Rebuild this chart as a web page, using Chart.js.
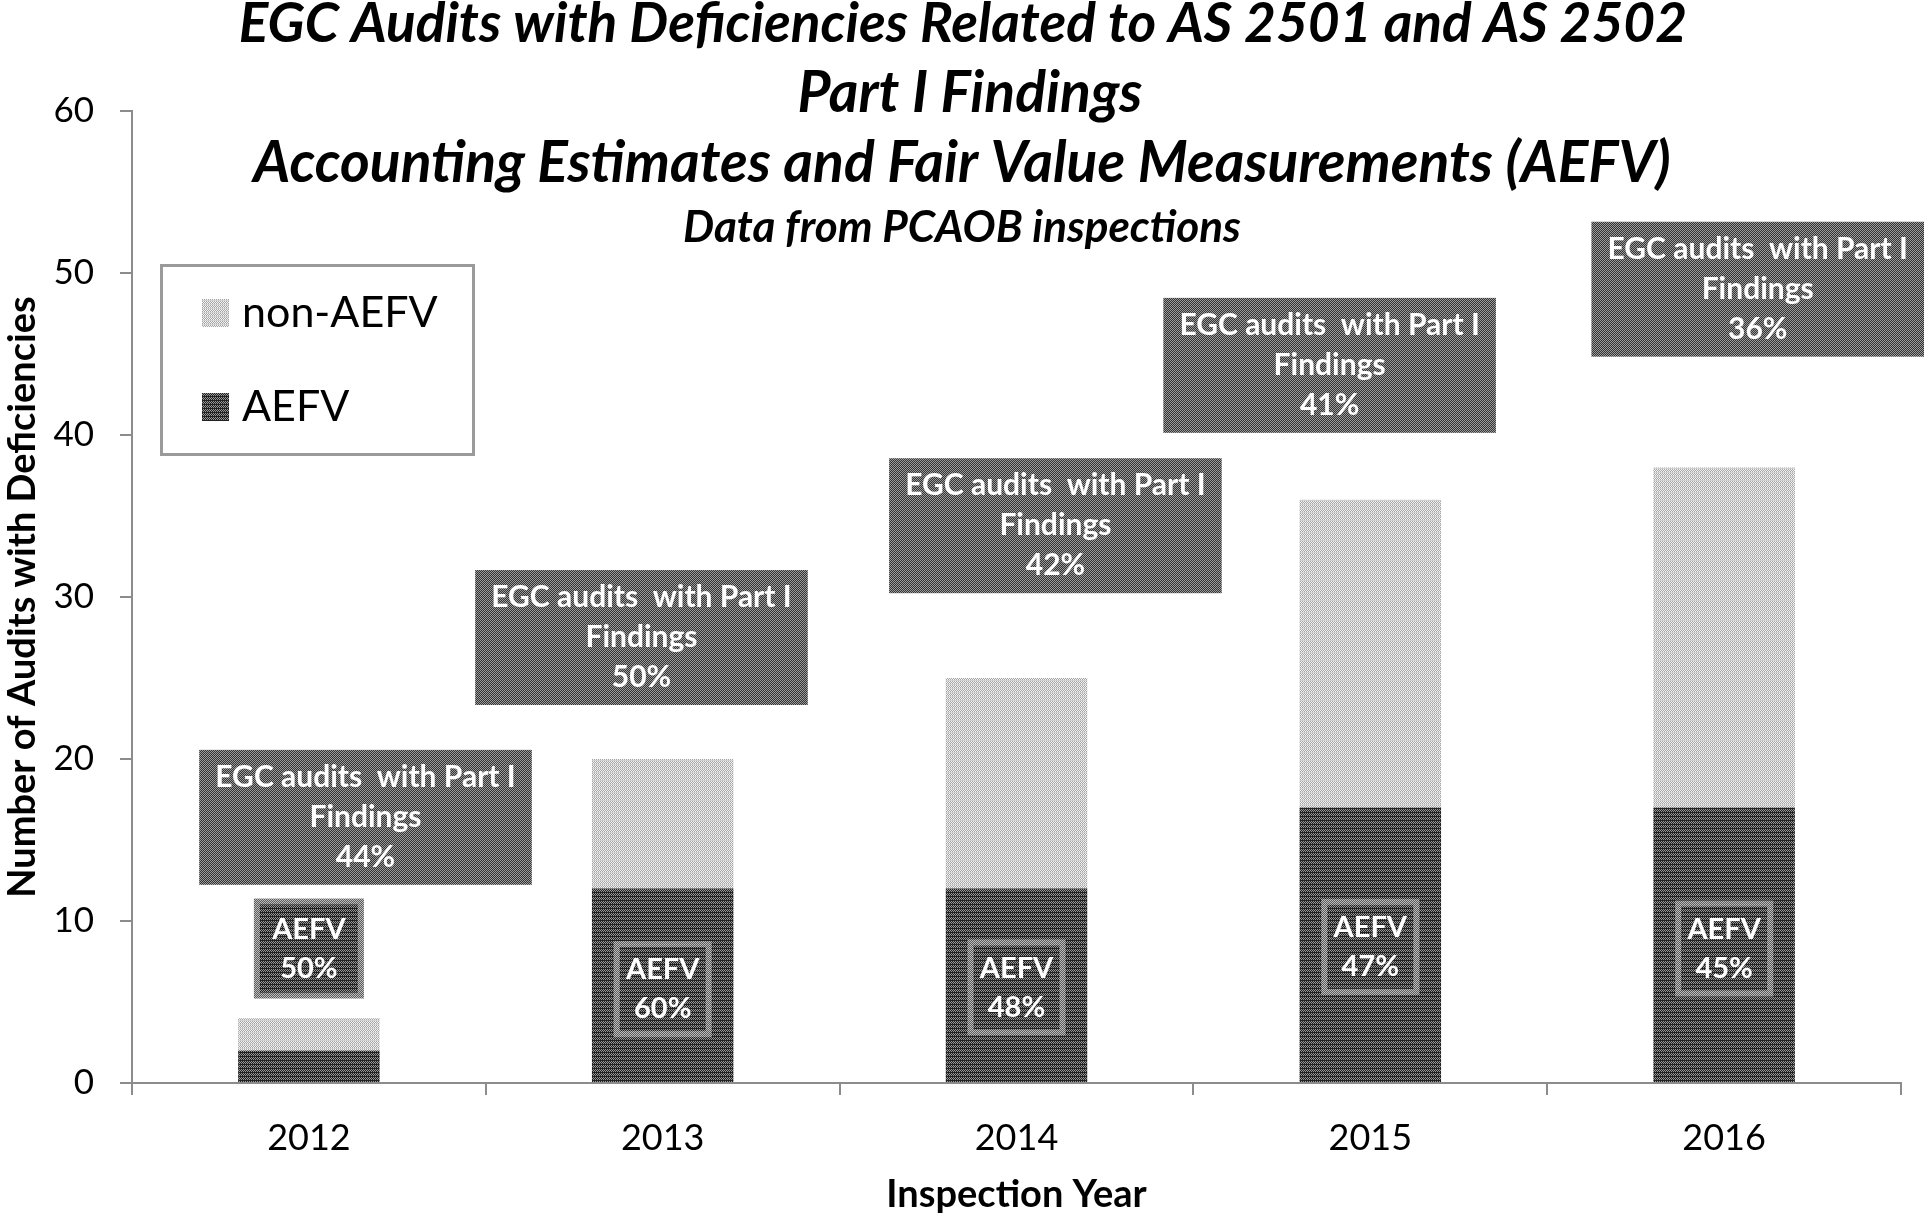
<!DOCTYPE html>
<html>
<head>
<meta charset="utf-8">
<script src="https://cdn.jsdelivr.net/npm/chart.js@4.4.1/dist/chart.umd.min.js"></script>
<style>
  html, body { margin: 0; padding: 0; background: #fff; }
</style>
</head>
<body>
<canvas id="chart" width="1924" height="1218"></canvas>
<script>
// data
var years = ['2012', '2013', '2014', '2015', '2016'];
var aefv = [2, 12, 12, 17, 17];
var nonAefv = [2, 8, 13, 19, 21];
var partIFindingsPct = [44, 50, 42, 41, 36];
var yTicks = [0, 10, 20, 30, 40, 50, 60];
var titleLines = [
  'EGC Audits with Deficiencies Related to AS 2501 and AS 2502',
  'Part I Findings',
  'Accounting Estimates and Fair Value Measurements (AEFV)'
];
var subTitle = 'Data from PCAOB inspections';

// where the call-out boxes sit (category offset, centre in axis units)
var boxShift = [0.16, -0.06, 0.11, -0.115, 0.095];
var boxMid = [16.4, 27.5, 34.4, 44.3, 49.0];
var tagMid = [8.3, 5.8, 5.9, 8.4, 8.3];

var FONT = 'Lato, "Open Sans", sans-serif';
var canvas = document.getElementById('chart');
var ctx = canvas.getContext('2d');

// dithered fills like the scanned original
function makePattern(size, pick) {
  var c = document.createElement('canvas');
  c.width = size; c.height = size;
  var g = c.getContext('2d');
  for (var y = 0; y < size; y++) {
    for (var x = 0; x < size; x++) {
      g.fillStyle = pick(x, y);
      g.fillRect(x, y, 1, 1);
    }
  }
  return ctx.createPattern(c, 'repeat');
}
var darkFill = makePattern(4, function (x, y) {
  if (y % 4 === 0) return '#222222';
  return (x + y) % 2 ? '#222222' : '#969696';
});
var lightFill = makePattern(4, function (x, y) {
  if (y % 4 === 0) return '#d0d0d0';
  return (x + y) % 2 ? '#a6a6a6' : '#f2f2f2';
});
var boxFill = makePattern(2, function (x, y) {
  return (x + y) % 2 ? '#333333' : '#9c9c9c';
});
var tagEdge = makePattern(2, function (x, y) {
  return (x + y) % 2 ? '#5c5c5c' : '#bdbdbd';
});
var axisColor = '#8c8c8c';

var titlesPlugin = {
  id: 'titles',
  afterDraw: function (chart) {
    var c = chart.ctx;
    c.save();
    c.fillStyle = '#000';
    c.textAlign = 'center';
    c.textBaseline = 'middle';
    c.font = 'italic bold 55px ' + FONT;
    c.fillText(titleLines[0], 963, 24);
    c.font = 'italic bold 57px ' + FONT;
    c.fillText(titleLines[1], 970, 94);
    c.fillText(titleLines[2], 962, 164);
    c.font = 'italic bold 44px ' + FONT;
    c.fillText(subTitle, 962, 228);
    c.restore();
  }
};

var calloutPlugin = {
  id: 'callouts',
  afterDatasetsDraw: function (chart) {
    var c = chart.ctx;
    var xs = chart.scales.x, ys = chart.scales.y;
    var catW = xs.width / years.length;
    var unit = ys.getPixelForValue(0) - ys.getPixelForValue(1);
    c.save();
    c.textAlign = 'center';
    c.textBaseline = 'middle';
    years.forEach(function (yr, i) {
      // EGC audits with Part I findings box
      var w = 0.94 * catW, h = 8.33 * unit;
      var cx = xs.getPixelForValue(i) + boxShift[i] * catW;
      var cy = ys.getPixelForValue(boxMid[i]);
      c.fillStyle = boxFill;
      c.fillRect(cx - w / 2, cy - h / 2, w, h);
      c.fillStyle = '#fff';
      c.font = 'bold 30px ' + FONT;
      c.fillText('EGC audits  with Part I', cx, cy - 40);
      c.fillText('Findings', cx, cy);
      c.fillText(partIFindingsPct[i] + '%', cx, cy + 40);

      // AEFV share tag
      var share = Math.round(100 * aefv[i] / (aefv[i] + nonAefv[i]));
      var tx = xs.getPixelForValue(i);
      var ty = ys.getPixelForValue(tagMid[i]);
      var tw = i === 0 ? 110 : 98, th = i === 0 ? 100 : 96;
      c.fillStyle = tagEdge;
      c.fillRect(tx - tw / 2, ty - th / 2, tw, th);
      c.fillStyle = darkFill;
      c.fillRect(tx - tw / 2 + 6, ty - th / 2 + 6, tw - 12, th - 12);
      c.fillStyle = '#fff';
      c.font = 'bold 29px ' + FONT;
      c.fillText('AEFV', tx, ty - 19);
      c.fillText(share + '%', tx, ty + 20);
    });
    c.restore();
  }
};

var legendPlugin = {
  id: 'boxLegend',
  afterDraw: function (chart) {
    var c = chart.ctx;
    var items = chart.data.datasets.slice().reverse();
    c.save();
    c.strokeStyle = '#9a9a9a';
    c.lineWidth = 3;
    c.strokeRect(161.5, 265.5, 312, 189);
    c.textAlign = 'left';
    c.textBaseline = 'middle';
    c.font = '43px ' + FONT;
    items.forEach(function (ds, k) {
      var y = 313 + k * 94;
      c.fillStyle = ds.backgroundColor;
      c.fillRect(202, y - 14, 27, 28);
      c.fillStyle = '#000';
      c.fillText(ds.label, 242, y);
    });
    c.restore();
  }
};

new Chart(ctx, {
  type: 'bar',
  data: {
    labels: years,
    datasets: [
      { label: 'AEFV', data: aefv, backgroundColor: darkFill, stack: 'all',
        barPercentage: 0.4, categoryPercentage: 1 },
      { label: 'non-AEFV', data: nonAefv, backgroundColor: lightFill, stack: 'all',
        barPercentage: 0.4, categoryPercentage: 1 }
    ]
  },
  options: {
    responsive: false,
    devicePixelRatio: 1,
    animation: false,
    layout: { padding: { left: 0, right: 23, top: 111, bottom: 0 } },
    plugins: {
      legend: { display: false },
      title: { display: false },
      tooltip: { enabled: false }
    },
    scales: {
      x: {
        stacked: true,
        grid: { drawOnChartArea: false, offset: true, tickLength: 12, color: axisColor, lineWidth: 2 },
        border: { color: axisColor, width: 2 },
        ticks: { color: '#000', font: { family: FONT, size: 36 }, padding: 22 },
        title: { display: true, text: 'Inspection Year', color: '#000',
                 font: { family: FONT, size: 38, weight: 'bold' }, padding: { top: 0, bottom: 0 } },
        afterFit: function (s) { s.height = 135; }
      },
      y: {
        stacked: true,
        min: 0,
        max: 60,
        afterBuildTicks: function (s) { s.ticks = yTicks.map(function (v) { return { value: v }; }); },
        grid: { drawOnChartArea: false, tickLength: 12, color: axisColor, lineWidth: 2 },
        border: { color: axisColor, width: 2 },
        ticks: { color: '#000', font: { family: FONT, size: 35 }, padding: 26 },
        title: { display: true, text: 'Number of Audits with Deficiencies', color: '#000',
                 font: { family: FONT, size: 38, weight: 'bold' }, padding: { top: 0, bottom: 0 } },
        afterFit: function (s) { s.width = 132; }
      }
    }
  },
  plugins: [titlesPlugin, calloutPlugin, legendPlugin]
});
</script>
</body>
</html>
